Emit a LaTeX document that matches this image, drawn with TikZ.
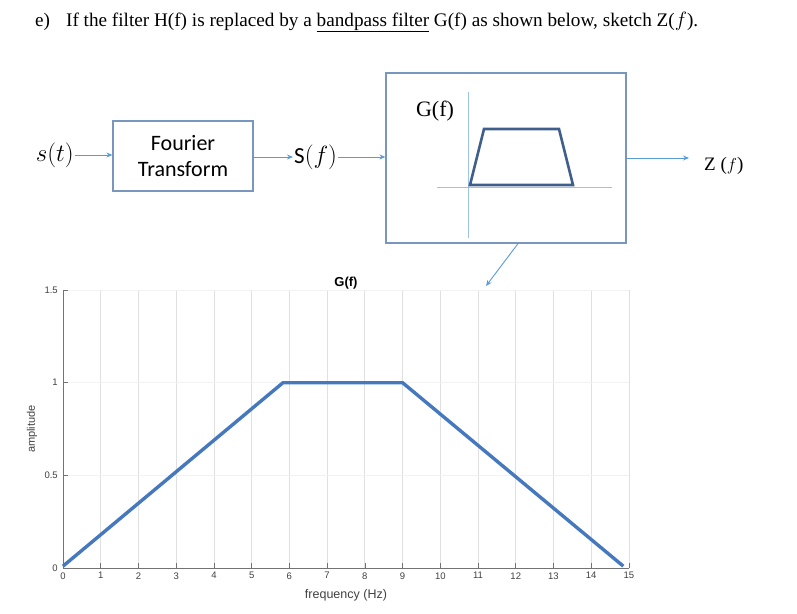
\documentclass[tikz,border=0pt]{standalone}
\usepackage{fontspec}
\setmainfont{Liberation Serif}
\newfontfamily\calfont{Carlito}
\newfontfamily\plotfont{Liberation Sans}
\usepackage{tikz}
\usetikzlibrary{arrows.meta,positioning,calc}
\usepackage{xcolor}
\definecolor{arrowblue}{RGB}{91,155,213}
\definecolor{boxblue}{RGB}{120,150,190}
\definecolor{axisblue}{RGB}{157,195,230}
\definecolor{trapblue}{RGB}{63,94,140}
\definecolor{plotblue}{RGB}{70,120,190}

\begin{document}
\begin{tikzpicture}[x=1pt, y=-1pt,
  blockbox/.style={draw=boxblue, line width=1.2pt, inner sep=0pt},
  sig/.style={inner sep=1pt, font=\fontsize{23}{25}\selectfont},
  flow/.style={draw=arrowblue, line width=0.9pt, -{Stealth[length=6pt,width=5pt]}},
  ticklab/.style={font=\plotfont\fontsize{9.5}{11}\selectfont, text=black!75}]
\useasboundingbox (0,0) rectangle (797,613);

% question text
\node[anchor=base west, inner sep=0pt, font=\fontsize{19.2}{22}\selectfont] (task) at (35,26)
  {e)\hspace{16pt}If the filter H(f) is replaced by a \underline{bandpass filter} G(f) as shown below, sketch Z($f$).};

% block diagram
\node[sig, anchor=east] (st) at (75,155) {$s(t)$};
\node[blockbox, minimum width=140, minimum height=70, align=center, font=\calfont\fontsize{22}{26}\selectfont] (ft) at (183,156) {Fourier\\Transform};
\node[sig, anchor=west] (sf) at (293,157) {{\calfont S}$(f)$};
\node[blockbox, minimum width=240, minimum height=170] (gbox) at (506,158) {};
\node[anchor=west, inner sep=0pt, font=\fontsize{19}{21}\selectfont] (zf) at (704,166) {Z ($f$)};
\coordinate (plottip) at (486,286);

\draw[flow] (st) -- (ft.west |- st);
\draw[flow] (ft.east |- sf) -- (sf);
\draw[flow] (sf) -- (gbox.west |- sf);
\draw[flow, shorten >=15pt] (gbox.east) -- (gbox.east -| zf.west);
\draw[flow] ($(gbox.south)+(12,0)$) -- (plottip);

% filter sketch inside the box
\node[font=\fontsize{22}{24}\selectfont, inner sep=0pt] (glab) at (435,111) {G(f)};
\draw[axisblue, line width=1pt] (468,92) -- (468,238);
\draw[axisblue, line width=1pt] (437,187) -- (612,187);
\draw[trapblue, line width=2.6pt, line join=miter] (470,185) -- (484,129) -- (559,129) -- (573,185) -- cycle;

% plot of G(f)
\begin{scope}[shift={(63,568)}, x=37.73pt, y=185.3pt]
  \foreach \k in {1,...,15}
    \draw[black!12, line width=0.8pt] (\k,0) -- (\k,1.5);
  \foreach \v in {0.5,1,1.5}
    \draw[black!5, line width=0.6pt] (0,\v) -- (15,\v);
  \draw[black!55, line width=0.8pt] (0,1.5) -- (0,0) -- (15,0);
  \foreach \k in {0,...,15} {
    \draw[black!55, line width=0.6pt] (\k,0) -- (\k,0.025);
    \node[ticklab, anchor=north, inner sep=2pt] at (\k,-0.012) {\k};
  }
  \foreach \v in {0,0.5,1,1.5} {
    \draw[black!55, line width=0.6pt] (0,\v) -- (0.12,\v);
    \node[ticklab, anchor=east, inner sep=2pt] at (-0.08,\v) {\v};
  }
  \draw[plotblue, line width=3.4pt, line join=round] (0,0.01) -- (5.83,1) -- (9,1) -- (14.85,0.01);
  \node[font=\plotfont\bfseries\fontsize{13}{15}\selectfont] (ptitle) at (7.5,1.54) {G(f)};
  \node[ticklab, font=\plotfont\fontsize{11}{13}\selectfont, rotate=90] (ylab) at (-0.82,0.75) {amplitude};
  \node[ticklab, font=\plotfont\fontsize{12.5}{14}\selectfont] (xlab) at (7.5,-0.145) {frequency (Hz)};
\end{scope}
\end{tikzpicture}
\end{document}
